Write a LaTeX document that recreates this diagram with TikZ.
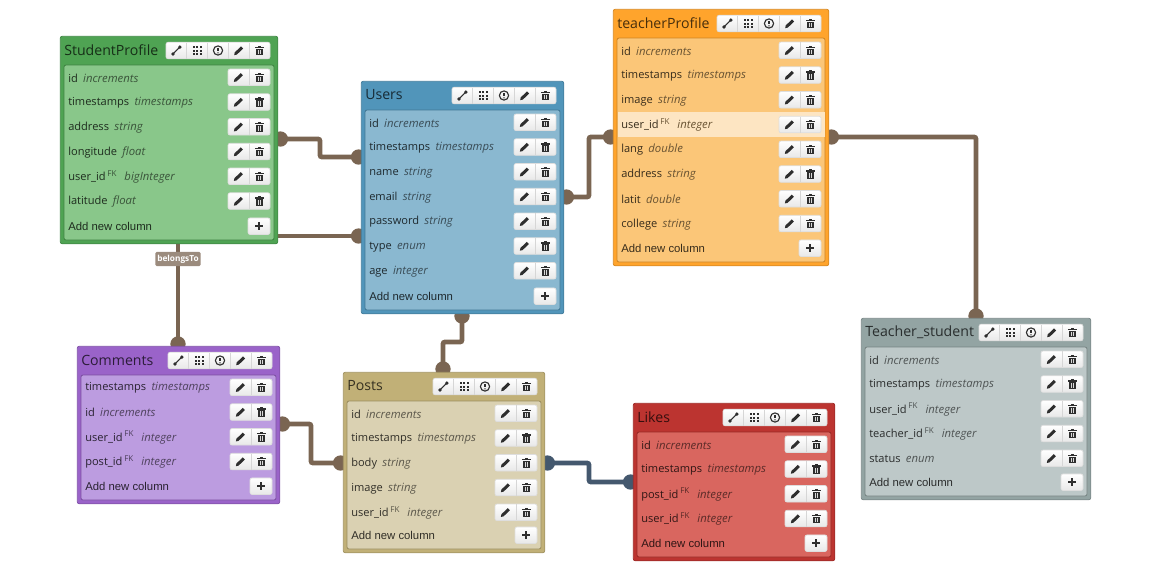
\documentclass[tikz,border=0pt]{standalone}
\usepackage{fontspec}
\setmainfont{Open Sans}
\newfontfamily\addfont{Liberation Sans}
\usepackage{tikz}
\usetikzlibrary{backgrounds}

\definecolor{linkbrown}{HTML}{7A6552}
\definecolor{linkslate}{HTML}{44586E}
\definecolor{inkdark}{HTML}{2E2E2E}
\definecolor{greenhead}{HTML}{4FA353}
\definecolor{greenbody}{HTML}{89C78A}
\definecolor{bluehead}{HTML}{5195BA}
\definecolor{bluebody}{HTML}{8AB8D0}
\definecolor{orangehead}{HTML}{FFA42C}
\definecolor{orangebody}{HTML}{FBC678}
\definecolor{purplehead}{HTML}{9A63C9}
\definecolor{purplebody}{HTML}{BC9CE0}
\definecolor{tanhead}{HTML}{C1B077}
\definecolor{tanbody}{HTML}{DAD1B2}
\definecolor{redhead}{HTML}{BC3430}
\definecolor{redbody}{HTML}{D9665F}
\definecolor{grayhead}{HTML}{93A4A3}
\definecolor{graybody}{HTML}{BDC8C8}

\tikzset{
	tablebox/.style={rounded corners=1.5pt,inner sep=0pt,outer sep=0pt},
	btnbar/.style={rounded corners=1.5pt,inner sep=0pt,outer sep=0pt,anchor=east,
		top color=white,bottom color=black!9,draw=black!13,line width=0.5pt,minimum height=12.4pt},
	btnsep/.style={black!16,line width=0.5pt},
	rowtext/.style={anchor=west,inner sep=0pt,yshift=-0.5pt,font=\fontsize{8.3}{11}\selectfont},
	addtext/.style={anchor=west,inner sep=0pt,font=\addfont\fontsize{8.5}{11}\selectfont},
	titletext/.style={anchor=west,inner sep=0pt,font=\fontsize{10.6}{13}\selectfont},
	enddot/.style={fill,circle,inner sep=0pt,minimum size=11.5pt},
	link/.style={line width=3.6pt,rounded corners=1.5pt},
	pencilicon/.pic={\fill[inkdark] (-4.6,4.6) -- (-4.1,2) -- (2.2,-4.2) -- (4.4,-2) -- (-2,4.1) -- cycle;},
	trashicon/.pic={
		\fill[inkdark] (-4.2,-3.6) rectangle (4.2,-2.4);
		\fill[inkdark] (-1.6,-4.8) rectangle (1.6,-3.6);
		\fill[inkdark] (-3.3,-1.6) rectangle (3.3,4.8);
		\foreach \gapx in {-1.2,1.2}{\fill[white!85!black] (\gapx-0.35,-0.6) rectangle (\gapx+0.35,3.8);}
	},
	linkicon/.pic={
		\draw[inkdark,line width=0.8pt] (-3.4,3.4) -- (3.4,-3.4);
		\fill[inkdark] (-3.4,3.4) circle (1.9) (3.4,-3.4) circle (1.9);
	},
	gridicon/.pic={
		\foreach \gridx in {-3.4,0,3.4}{\foreach \gridy in {-3.4,0,3.4}{
			\fill[inkdark] (\gridx-1,\gridy-1) rectangle (\gridx+1,\gridy+1);
		}}
	},
	clockicon/.pic={
		\draw[inkdark,line width=0.85pt] (0,0) circle (4.6);
		\draw[inkdark,line width=1pt] (0,-2.6) -- (0,0.8);
		\fill[inkdark] (0,2.4) circle (0.8);
	},
	plusicon/.pic={
		\draw[inkdark,line width=1.6pt] (-4,0) -- (4,0) (0,-4) -- (0,4);
	},
}

% name, right x, centre y
\newcommand{\headbtns}[3]{
	\node[btnbar,minimum width=78pt] (#1) at (#2,#3) {};
	\foreach \k in {1,2,3,4}{\draw[btnsep] ({#2-\k*20.8},#3-8) -- ({#2-\k*20.8},#3+8);}
	\pic at ({#2-10.4},#3) {trashicon};
	\pic at ({#2-31.2},#3) {pencilicon};
	\pic at ({#2-52},#3) {clockicon};
	\pic at ({#2-72.8},#3) {gridicon};
	\pic at ({#2-93.6},#3) {linkicon};
}
% name, right x, centre y
\newcommand{\rowbtns}[3]{
	\node[btnbar,minimum width=31.5pt] (#1) at (#2,#3) {};
	\draw[btnsep] ({#2-21},#3-8) -- ({#2-21},#3+8);
	\pic at ({#2-10.5},#3) {trashicon};
	\pic at ({#2-31.5},#3) {pencilicon};
}
% name, title, x1, y1, x2, y2, head colour, body colour, rows (column/type/flag)
\newcommand{\dbtable}[9]{
	\colorlet{thead}{#7}
	\colorlet{tbody}{#8}
	\pgfmathsetmacro\midx{(#3+#5)/2}
	\pgfmathsetmacro\midy{(#4+#6)/2}
	\pgfmathsetmacro\bodyy{(#4+29+#6-4)/2}
	\pgfmathsetmacro\barx{#5-8}
	\node[tablebox,fill=thead,draw=thead!85!black,line width=0.6pt,minimum width={(#5-#3-0.5)*0.75pt},minimum height={(#6-#4-0.5)*0.75pt}] (#1) at (\midx,\midy) {};
	\node[tablebox,fill=tbody,draw=thead!80!black,line width=0.6pt,minimum width={(#5-#3-8)*0.75pt},minimum height={(#6-#4-33)*0.75pt}] (#1-body) at (\midx,\bodyy) {};
	\node[titletext,text=black!72!thead] (#1-title) at (#3+4,#4+14) {#2};
	\headbtns{#1-head}{\barx}{#4+14.5}
	\foreach \colname/\coltype/\colflag [count=\i from 0] in {#9}{
		\pgfmathsetmacro\rowy{#4+41.3+24.75*\i}
		\ifnum\colflag=2
			\node[inner sep=0pt,fill=tbody!45!white,minimum width={(#5-#3-9)*0.75pt},minimum height=18.4pt] (#1-mark) at (\midx,\rowy) {};
		\fi
		\node[rowtext,text=black!78!tbody] (#1-row\i) at (#3+8,\rowy) {\colname\ifnum\colflag>0\,\raisebox{3.2pt}{\fontsize{6}{6}\selectfont\color{black!60!tbody}FK}\hspace{2pt}\fi\hspace{4pt}{\fontsize{8.5}{11}\selectfont\color{black!58!tbody}\itshape\coltype}};
		\rowbtns{#1-btn\i}{\barx}{\rowy}
	}
	\node[addtext,text=black!78!tbody] (#1-add) at (#3+8,#6-17.8) {Add new column};
	\node[btnbar,minimum width=16.5pt] (#1-plus) at (\barx,#6-17.8) {};
	\pic at ({\barx-11},#6-17.8) {plusicon};
}

\begin{document}
\begin{tikzpicture}[x=0.75pt,y=-0.75pt]
	\useasboundingbox (0,0) rectangle (1174,562);

	\dbtable{studentprofile}{StudentProfile}{60}{36}{278}{244}{greenhead}{greenbody}{
		id/increments/0,timestamps/timestamps/0,address/string/0,longitude/float/0,
		user\_id/bigInteger/1,latitude/float/0}
	\dbtable{users}{Users}{361}{81}{564}{314}{bluehead}{bluebody}{
		id/increments/0,timestamps/timestamps/0,name/string/0,email/string/0,
		password/string/0,type/enum/0,age/integer/0}
	\dbtable{teacherprofile}{teacherProfile}{613}{9}{829}{266}{orangehead}{orangebody}{
		id/increments/0,timestamps/timestamps/0,image/string/0,user\_id/integer/2,
		lang/double/0,address/string/0,latit/double/0,college/string/0}
	\dbtable{comments}{Comments}{77}{346}{280}{504}{purplehead}{purplebody}{
		timestamps/timestamps/0,id/increments/0,user\_id/integer/1,post\_id/integer/1}
	\dbtable{posts}{Posts}{343}{372}{545}{553}{tanhead}{tanbody}{
		id/increments/0,timestamps/timestamps/0,body/string/0,image/string/0,user\_id/integer/1}
	\dbtable{likes}{Likes}{633}{403}{835}{561}{redhead}{redbody}{
		id/increments/0,timestamps/timestamps/0,post\_id/integer/1,user\_id/integer/1}
	\dbtable{teacherstudent}{Teacher\_student}{861}{318}{1091}{500}{grayhead}{graybody}{
		id/increments/0,timestamps/timestamps/0,user\_id/integer/1,teacher\_id/integer/1,status/enum/0}

	\begin{pgfonlayer}{background}
		\node[enddot,linkbrown,xshift=2pt] (sp-right) at (studentprofile.east |- 0,139) {};
		\node[enddot,linkbrown,xshift=-2pt] (users-left) at (users.west |- 0,157) {};
		\draw[link,linkbrown] (sp-right.center) -- (320,139) -- (320,157) -- (users-left.center);

		\coordinate (sp-low) at (studentprofile.east |- 0,236);
		\node[enddot,linkbrown,xshift=-2pt] (users-low) at (users.west |- 0,236) {};
		\draw[link,linkbrown] (sp-low) -- (users-low.center);

		\node[enddot,linkbrown,xshift=2pt] (users-right) at (users.east |- 0,197) {};
		\node[enddot,linkbrown,xshift=-2pt] (teacher-left) at (teacherprofile.west |- 0,137) {};
		\draw[link,linkbrown] (users-right.center) -- (589,197) -- (589,137) -- (teacher-left.center);

		\node[enddot,linkbrown] (users-bottom) at (462,316) {};
		\node[enddot,linkbrown] (posts-top) at (443,369) {};
		\draw[link,linkbrown] (users-bottom.center) -- (462,342) -- (443,342) -- (posts-top.center);

		\node[enddot,linkbrown] (comments-top) at (178,344) {};
		\coordinate (sp-bottom) at (178,244);
		\draw[link,linkbrown] (sp-bottom) -- (comments-top.center);

		\node[enddot,linkbrown,xshift=2pt] (comments-right) at (comments.east |- 0,424) {};
		\node[enddot,linkbrown,xshift=-2pt] (posts-left) at (posts.west |- 0,463) {};
		\draw[link,linkbrown] (comments-right.center) -- (311,424) -- (311,463) -- (posts-left.center);

		\node[enddot,linkslate,xshift=2pt] (posts-right) at (posts.east |- 0,463) {};
		\node[enddot,linkslate,xshift=-2pt] (likes-left) at (likes.west |- 0,482) {};
		\draw[link,linkslate] (posts-right.center) -- (589,463) -- (589,482) -- (likes-left.center);

		\node[enddot,linkbrown,xshift=2pt] (teacher-right) at (teacherprofile.east |- 0,137) {};
		\node[enddot,linkbrown] (ts-top) at (976,316) {};
		\draw[link,linkbrown] (teacher-right.center) -- (976,137) -- (ts-top.center);
	\end{pgfonlayer}
	\node[fill=linkbrown!75!white,rounded corners=1pt,text=white,inner xsep=1.5pt,inner ysep=2.2pt,font=\fontsize{6.2}{7}\selectfont\bfseries] (belongs) at (178,259) {belongsTo};
\end{tikzpicture}
\end{document}
